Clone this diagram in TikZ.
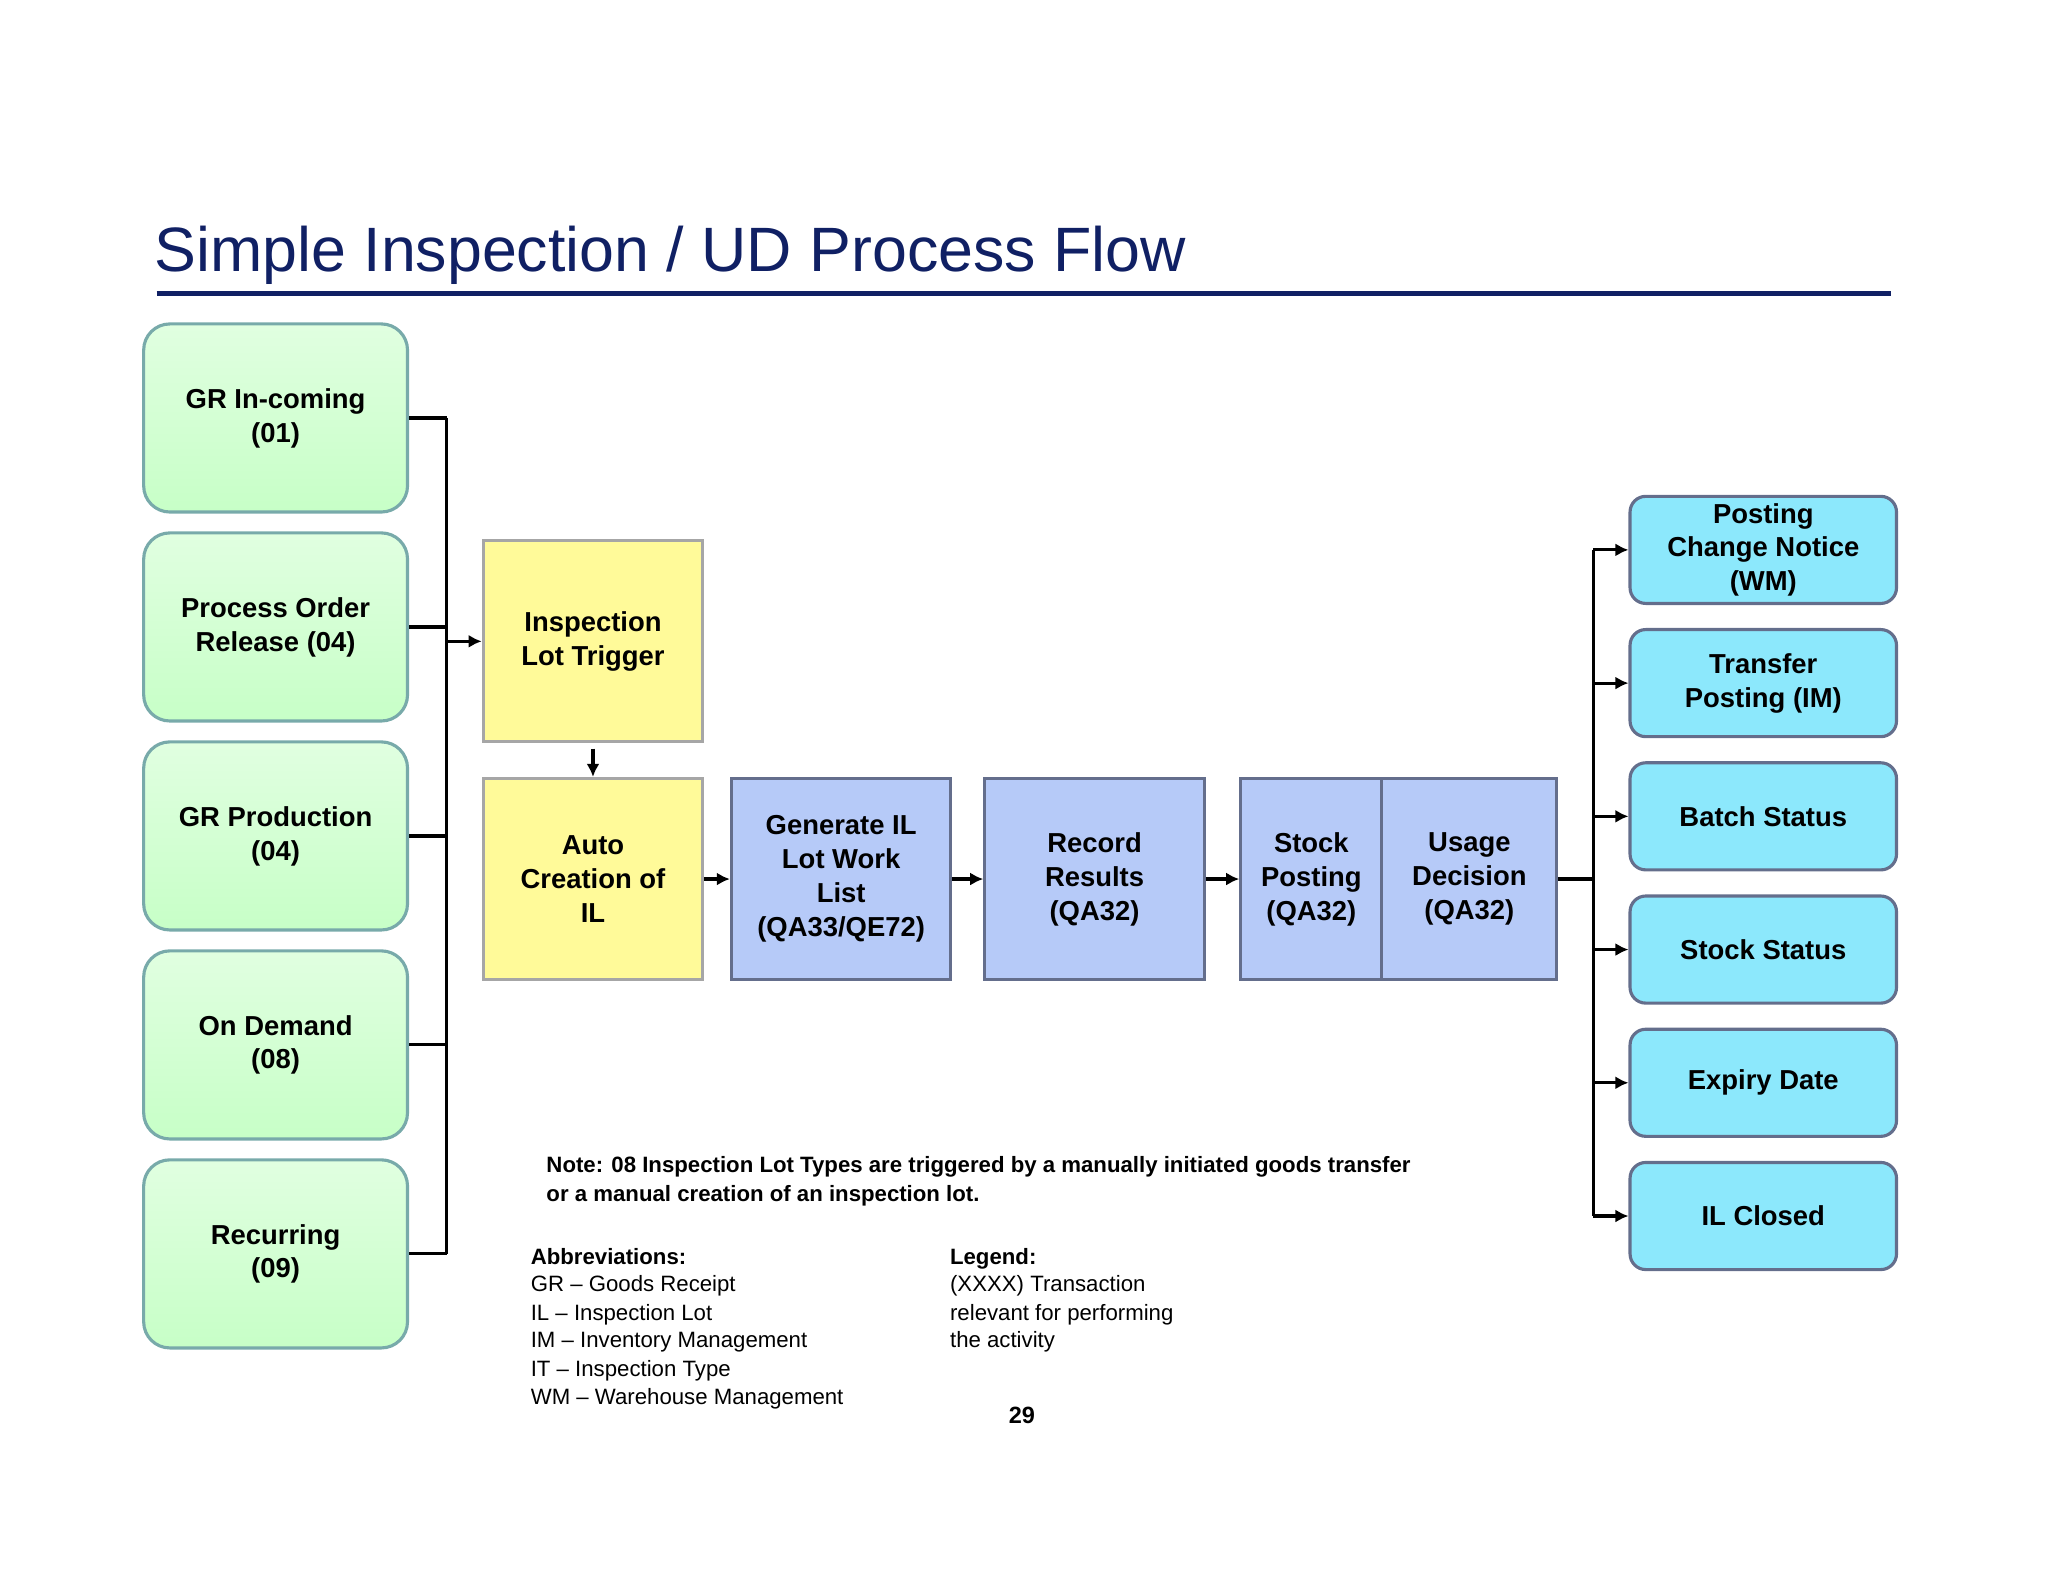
\documentclass[tikz,border=0pt]{standalone}
\usepackage{fontspec}
\setmainfont{Liberation Sans}
\usetikzlibrary{arrows.meta}
\definecolor{navy}{RGB}{16,32,100}
\definecolor{gbord}{RGB}{120,170,170}
\definecolor{bbord}{RGB}{100,110,140}
\tikzset{
 box/.style={draw, line width=1.2pt, align=center, font=\bfseries\fontsize{10.5}{13}\selectfont, inner sep=1pt},
 gbox/.style={box, draw=gbord, rounded corners=10pt, top color=green!12!white, bottom color=green!22!white, minimum width=101pt, minimum height=72pt},
 ybox/.style={box, draw=gray!70, fill=yellow!40, minimum width=84pt, minimum height=77pt},
 bbox/.style={box, draw=bbord, fill=blue!25!cyan!8!white, fill={rgb,255:red,182;green,202;blue,248}, minimum height=77pt},
 cbox/.style={box, draw=bbord, rounded corners=6pt, fill={rgb,255:red,140;green,232;blue,252}, minimum width=102pt, minimum height=41pt},
 con/.style={line width=1.2pt},
 arr/.style={con, -{Latex[length=5pt,width=5pt]}},
 sm/.style={anchor=base west, inner sep=0pt, font=\fontsize{8.5}{10}\selectfont}
}
\begin{document}
\begin{tikzpicture}[x=0.5pt,y=0.5pt]
\useasboundingbox (0,0) rectangle (1568,-1211);
\node[anchor=base west, inner sep=0pt, text=navy, font=\fontsize{24}{28}\selectfont] (title) at (118,-208) {Simple Inspection / UD Process Flow};
\draw[navy, line width=2pt] (120,-225) -- (1448,-225);
\node[gbox] (g1) at (211,-320) {GR In-coming\\(01)};
\node[gbox] (g2) at (211,-480) {Process Order\\Release (04)};
\node[gbox] (g3) at (211,-640) {GR Production\\(04)};
\node[gbox] (g4) at (211,-800) {On Demand\\(08)};
\node[gbox] (g5) at (211,-960) {Recurring\\(09)};
\node[ybox] (y1) at (454,-491) {Inspection\\Lot Trigger};
\node[ybox] (y2) at (454,-673) {Auto\\Creation of\\IL};
\node[bbox, minimum width=84pt] (b1) at (644,-673) {Generate IL\\Lot Work\\List\\(QA33/QE72)};
\node[bbox, minimum width=84pt] (b2) at (838,-673) {Record\\Results\\(QA32)};
\node[bbox, minimum width=54pt] (b3) at (1004,-673) {Stock\\Posting\\(QA32)};
\node[bbox, minimum width=67pt] (b4) at (1125,-673) {Usage\\Decision\\(QA32)};
\node[cbox] (c1) at (1350,-421) {Posting\\Change Notice\\(WM)};
\node[cbox] (c2) at (1350,-523) {Transfer\\Posting (IM)};
\node[cbox] (c3) at (1350,-625) {Batch Status};
\node[cbox] (c4) at (1350,-727) {Stock Status};
\node[cbox] (c5) at (1350,-829) {Expiry Date};
\node[cbox] (c6) at (1350,-931) {IL Closed};
\coordinate (jt) at (342,-320);
\coordinate (jb) at (342,-960);
\foreach \g in {g1,g2,g3,g4,g5} \draw[con] (\g.east) -- (\g.east -| jt);
\draw[con] (jt) -- (jb);
\draw[arr] (jt |- y1.west) -- (y1.west);
\draw[arr] (y1.south) ++(0,-4) -- (y2.north);
\draw[arr] (y2.east) -- (b1.west);
\draw[arr] (b1.east) -- (b2.west);
\draw[arr] (b2.east) -- (b3.west);
\coordinate (rj) at (1220,-673);
\draw[con] (b4.east) -- (rj);
\draw[con] (rj |- c1.west) -- (rj |- c6.west);
\foreach \c in {c1,c2,c3,c4,c5,c6} \draw[arr] (\c.west -| rj) -- (\c.west);
\node[sm, font=\bfseries\fontsize{8.5}{10}\selectfont] (n1) at (418,-898) {Note: 08 Inspection Lot Types are triggered by a manually initiated goods transfer};
\node[sm, font=\bfseries\fontsize{8.5}{10}\selectfont] (n2) at (418,-920) {or a manual creation of an inspection lot.};
\node[sm, font=\bfseries\fontsize{8.5}{10}\selectfont] (a0) at (406,-968) {Abbreviations:};
\node[sm] (a1) at (406,-989) {GR – Goods Receipt};
\node[sm] (a2) at (406,-1011) {IL – Inspection Lot};
\node[sm] (a3) at (406,-1032) {IM – Inventory Management};
\node[sm] (a4) at (406,-1054) {IT – Inspection Type};
\node[sm] (a5) at (406,-1075) {WM – Warehouse Management};
\node[sm, font=\bfseries\fontsize{8.5}{10}\selectfont] (l0) at (727,-968) {Legend:};
\node[sm] (l1) at (727,-989) {(XXXX) Transaction};
\node[sm] (l2) at (727,-1011) {relevant for performing};
\node[sm] (l3) at (727,-1032) {the activity};
\node[sm, font=\bfseries\fontsize{9}{10}\selectfont] (pg) at (772,-1090) {29};
\end{tikzpicture}
\end{document}
